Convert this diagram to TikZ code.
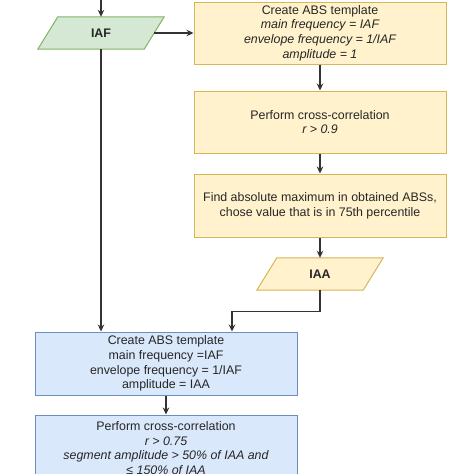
\documentclass[tikz,border=0pt]{standalone}
\usepackage{fontspec}
\setmainfont{Liberation Sans}
\usetikzlibrary{arrows.meta,backgrounds}
\definecolor{yfill}{HTML}{FFF2CC}
\definecolor{ydraw}{HTML}{D6B656}
\definecolor{gfill}{HTML}{D5E8D4}
\definecolor{gdraw}{HTML}{82B366}
\definecolor{bfill}{HTML}{DAE8FC}
\definecolor{bdraw}{HTML}{6C8EBF}
\begin{document}
\begin{tikzpicture}[x=1pt,y=1pt,
 every node/.style={font=\fontsize{12.4}{14.6}\selectfont, text=black!85},
 box/.style={rectangle, draw, line width=1pt, minimum width=252pt, minimum height=62pt, inner sep=0pt, align=center},
 ybox/.style={box, fill=yfill, draw=ydraw},
 bbox/.style={box, fill=bfill, draw=bdraw, minimum width=262pt},
 para/.style={rectangle, minimum width=106pt, minimum height=32pt, inner sep=0pt, font=\fontsize{12.4}{14.6}\selectfont\bfseries},
 parashape/.style={line width=1pt},
 conn/.style={draw=black!80, line width=1.1pt, -{Stealth[length=7pt,width=6.5pt]}}]
\useasboundingbox (0,0) rectangle (474,-474);
\clip (0,0) rectangle (474,-474);

\coordinate (top) at (101,0);
\node[para] (iaf) at (101,-33) {IAF};
\node[ybox] (b1) at (320,-33) {Create ABS template\\ \itshape main frequency = IAF\\ \itshape envelope frequency = 1/IAF\\ \itshape amplitude = 1};
\node[ybox] (b2) at (320,-122) {Perform cross-correlation\\ \itshape r > 0.9};
\node[ybox, minimum height=63pt] (b3) at (320,-205.5) {Find absolute maximum in obtained ABSs,\\ chose value that is in 75th percentile};
\node[para] (iaa) at (320,-274) {IAA};
\node[bbox, minimum height=63pt] (bl1) at (166,-363.5) {Create ABS template\\ main frequency =IAF\\ envelope frequency = 1/IAF\\ amplitude = IAA};
\node[bbox, minimum height=66pt] (bl2) at (166,-448) {Perform cross-correlation\\ \itshape r > 0.75\\ \itshape segment amplitude > 50\% of IAA and\\ \itshape ≤ 150\% of IAA};

\begin{scope}[on background layer]
\filldraw[parashape, fill=gfill, draw=gdraw]
  ([xshift=-10pt]iaf.south west) -- ([xshift=10pt]iaf.north west) -- ([xshift=10pt]iaf.north east) -- ([xshift=-10pt]iaf.south east) -- cycle;
\filldraw[parashape, fill=yfill, draw=ydraw]
  ([xshift=-10pt]iaa.south west) -- ([xshift=10pt]iaa.north west) -- ([xshift=10pt]iaa.north east) -- ([xshift=-10pt]iaa.south east) -- cycle;
\end{scope}

\draw[conn] (top) -- (iaf);
\draw[conn] (iaf.east) -- (b1.west);
\draw[conn] (b1) -- (b2);
\draw[conn] (b2) -- (b3);
\draw[conn] (b3) -- (iaa);
\draw[conn] (iaf.south) -- (iaf.south |- bl1.north);
\draw[conn] (iaa.south) -- ++(0,-21) -| ([xshift=66pt]bl1.north);
\draw[conn] (bl1) -- (bl2);
\end{tikzpicture}
\end{document}
